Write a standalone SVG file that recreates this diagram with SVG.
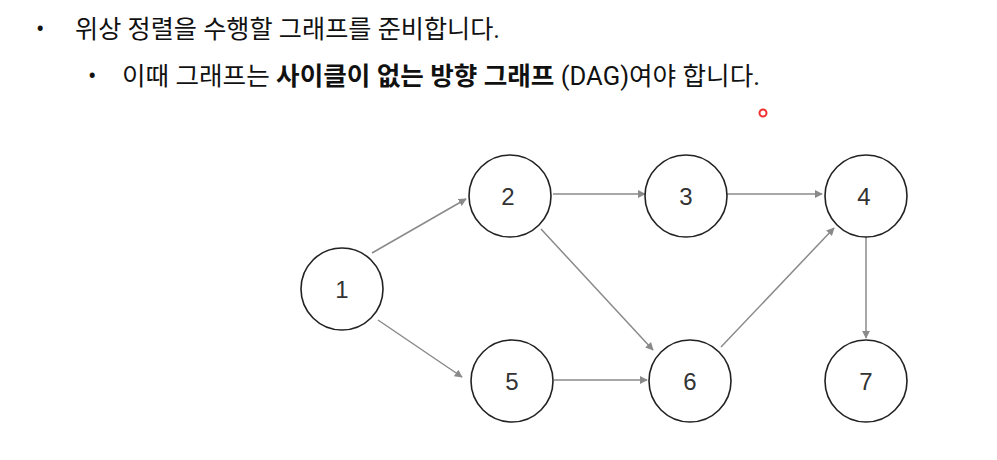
<svg xmlns="http://www.w3.org/2000/svg" width="997" height="460" viewBox="0 0 997 460">
<style>
.t{font-family:"Roboto","Noto Sans CJK KR",sans-serif;font-size:25px;fill:#111}
.b{font-weight:bold}
.n circle{fill:#fff;stroke:#222;stroke-width:1.6}
.n text{font-family:"Liberation Sans",Arial,sans-serif;font-size:24px;fill:#333;text-anchor:middle}
.e line{stroke:#8a8a8a;stroke-width:1.5;marker-end:url(#a)}
</style>
<defs><marker id="a" viewBox="0 0 10 10" refX="9" refY="5" markerWidth="8" markerHeight="8" markerUnits="userSpaceOnUse" orient="auto"><path d="M0,0L10,5L0,10z" fill="#8a8a8a"/></marker></defs>
<rect width="997" height="460" fill="#fff"/>
<text class="t" x="36" y="38">•</text>
<text class="t" x="75" y="38" textLength="425" lengthAdjust="spacingAndGlyphs">위상 정렬을 수행할 그래프를 준비합니다.</text>
<text class="t" x="88" y="85">•</text>
<text class="t" x="122" y="85" textLength="638" lengthAdjust="spacingAndGlyphs">이때 그래프는 <tspan class="b">사이클이 없는 방향 그래프</tspan> (DAG)여야 합니다.</text>
<circle cx="763" cy="113" r="3.5" fill="none" stroke="#f03030" stroke-width="2"/>
<g class="e" id="edges">
<line x1="372" y1="253" x2="466" y2="199"/>
<line x1="378" y1="320" x2="462" y2="377"/>
<line x1="553" y1="194" x2="645" y2="194"/>
<line x1="541" y1="229" x2="653" y2="350"/>
<line x1="727" y1="194" x2="822" y2="194"/>
<line x1="554" y1="380" x2="647" y2="380"/>
<line x1="721" y1="347" x2="834" y2="228"/>
<line x1="866" y1="237" x2="866" y2="338"/>
</g>
<g class="n" id="n1"><circle cx="342" cy="289" r="41"/><text x="342" y="298">1</text></g>
<g class="n" id="n2"><circle cx="510" cy="196" r="41"/><text x="508" y="205">2</text></g>
<g class="n" id="n3"><circle cx="686" cy="196" r="41"/><text x="686" y="205">3</text></g>
<g class="n" id="n4"><circle cx="866" cy="196" r="41"/><text x="864" y="205">4</text></g>
<g class="n" id="n5"><circle cx="512" cy="381" r="41"/><text x="512" y="390">5</text></g>
<g class="n" id="n6"><circle cx="690" cy="381" r="41"/><text x="690" y="390">6</text></g>
<g class="n" id="n7"><circle cx="866" cy="381" r="41"/><text x="866" y="390">7</text></g>
</svg>
